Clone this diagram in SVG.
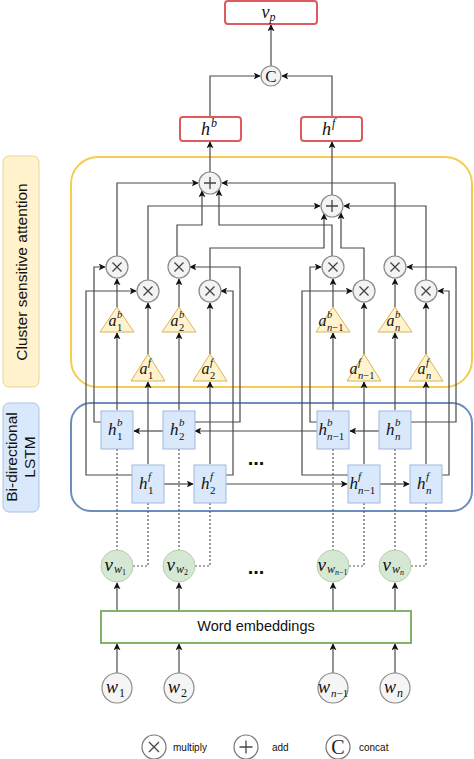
<svg xmlns="http://www.w3.org/2000/svg" width="474" height="759" viewBox="0 0 474 759">
<style>
.bg{fill:#ffffff}
.m{font-family:"Liberation Serif","DejaVu Serif",serif;font-style:italic;fill:#111}
.u{font-style:normal}
.s{font-family:"Liberation Sans",Arial,sans-serif;fill:#111}
.red{fill:#fff;stroke:#dd5b5f;stroke-width:2}
.op{fill:#f3f3f3;stroke:#8a8a8a;stroke-width:1.2}
.sym{stroke:#444;stroke-width:1.3;fill:none}
.tri{fill:#fff2cc;stroke:#d6b656;stroke-width:1}
.hb{fill:#dae8fc;stroke:#9fb9df;stroke-width:1}
.vw{fill:#d5e8d4;stroke:#b3d0a8;stroke-width:1}
.wc{fill:#f5f5f5;stroke:#8a8a8a;stroke-width:1.2}
.ln{fill:none;stroke:#4a4a4a;stroke-width:1.2}
.ar{marker-end:url(#ah)}
.dot{fill:none;stroke:#555;stroke-width:1.2;stroke-dasharray:2,2}
</style>
<defs>
<marker id="ah" viewBox="0 0 10 10" refX="9" refY="5" markerWidth="7" markerHeight="7" markerUnits="userSpaceOnUse" orient="auto">
<path d="M0,0 L10,5 L0,10 L2.5,5 z" fill="#111"/>
</marker>
</defs>
<rect class="bg" x="0" y="0" width="474" height="759"/>

<!-- section frames -->
<g id="frame-attention">
<rect x="71" y="157" width="401" height="230" rx="27" fill="none" stroke="#f4cd4f" stroke-width="2"/>
</g>
<g id="frame-lstm">
<rect x="71" y="403" width="401" height="108" rx="20" fill="none" stroke="#6c8ebf" stroke-width="2"/>
</g>
<g id="label-attention">
<rect x="3" y="156" width="36" height="231" rx="6" fill="#fff2cc" stroke="#e6d59a" stroke-width="1"/>
<text class="s" font-size="15.5" text-anchor="middle" transform="translate(27,272) rotate(-90)">Cluster sensitive attention</text>
</g>
<g id="label-lstm">
<rect x="3" y="403" width="36" height="109" rx="6" fill="#dae8fc" stroke="#a9c4eb" stroke-width="1"/>
<text class="s" font-size="15.5" text-anchor="middle" transform="translate(17,457) rotate(-90)">Bi-directional</text>
<text class="s" font-size="15.5" text-anchor="middle" transform="translate(35,457) rotate(-90)">LSTM</text>
</g>

<!-- connectors -->
<g id="connectors">
<path class="ln ar" d="M271,66 V25"/>
<path class="ln ar" d="M210,117 V76 H260"/>
<path class="ln ar" d="M332,117 V76 H282"/>
<path class="ln ar" d="M210,172 V142"/>
<path class="ln ar" d="M332,195 V142"/>
<path class="ln ar" d="M117,256 V183 H198"/>
<path class="ln ar" d="M395,256 V183 H222"/>
<path class="ln ar" d="M177,256 V225 H202 V191"/>
<path class="ln ar" d="M332,256 V225 H219 V190"/>
<path class="ln ar" d="M148,280 V206 H320"/>
<path class="ln ar" d="M426,280 V206 H344"/>
<path class="ln ar" d="M210,280 V248 H324 V214"/>
<path class="ln ar" d="M364,280 V248 H341 V213"/>
<path class="ln ar" d="M117,307 V279"/>
<path class="ln ar" d="M179,307 V279"/>
<path class="ln ar" d="M333,307 V279"/>
<path class="ln ar" d="M395,307 V279"/>
<path class="ln ar" d="M148,354 V303"/>
<path class="ln ar" d="M210,354 V303"/>
<path class="ln ar" d="M364,354 V303"/>
<path class="ln ar" d="M426,354 V303"/>
<path class="ln ar" d="M117,410 V333"/>
<path class="ln ar" d="M179,410 V333"/>
<path class="ln ar" d="M333,410 V333"/>
<path class="ln ar" d="M395,410 V333"/>
<path class="ln ar" d="M148,464 V382"/>
<path class="ln ar" d="M210,464 V382"/>
<path class="ln ar" d="M364,464 V382"/>
<path class="ln ar" d="M426,464 V382"/>
<path class="ln ar" d="M101,422 H94 V267 H105"/>
<path class="ln ar" d="M132,475 H86 V291 H136"/>
<path class="ln ar" d="M195,422 H240 V267 H190"/>
<path class="ln ar" d="M226,475 H233 V291 H221"/>
<path class="ln ar" d="M317,422 H310 V267 H321"/>
<path class="ln ar" d="M348,475 H302 V291 H352"/>
<path class="ln ar" d="M411,422 H456 V267 H407"/>
<path class="ln ar" d="M442,475 H449 V291 H438"/>
<path class="ln ar" d="M379,431 H350"/>
<path class="ln ar" d="M317,431 H195"/>
<path class="ln ar" d="M163,431 H134"/>
<path class="ln ar" d="M164,484 H193"/>
<path class="ln ar" d="M226,484 H347"/>
<path class="ln ar" d="M380,484 H409"/>
<path class="dot" d="M117,449 V550"/>
<path class="dot" d="M148,503 V566 H133"/>
<path class="dot" d="M179,449 V550"/>
<path class="dot" d="M210,503 V566 H195"/>
<path class="dot" d="M333,449 V550"/>
<path class="dot" d="M364,503 V566 H349"/>
<path class="dot" d="M395,449 V550"/>
<path class="dot" d="M426,503 V566 H411"/>
<path class="ln ar" d="M117,611 V583"/>
<path class="ln ar" d="M179,611 V583"/>
<path class="ln ar" d="M333,611 V583"/>
<path class="ln ar" d="M395,611 V583"/>
<path class="ln ar" d="M117,673 V644"/>
<path class="ln ar" d="M179,673 V644"/>
<path class="ln ar" d="M333,673 V644"/>
<path class="ln ar" d="M395,673 V644"/>
</g>

<!-- top nodes -->
<g id="vp">
<rect class="red" x="225" y="1" width="92" height="23" rx="3"/>
<text class="m" font-size="18"><tspan x="261.5" y="18">v</tspan><tspan x="269.5" y="21" font-size="12">p</tspan></text>
</g>
<g id="concat">
<circle class="op" cx="271" cy="76" r="10"/>
<text x="271" y="82" font-family="Liberation Serif,serif" font-size="17" text-anchor="middle" fill="#222">C</text>
</g>
<g id="hb-out">
<rect class="red" x="180" y="117" width="61" height="24" rx="3"/>
<text class="m" font-size="18"><tspan x="201" y="135">h</tspan><tspan x="211" y="127" font-size="12">b</tspan></text>
</g>
<g id="hf-out">
<rect class="red" x="301" y="117" width="61" height="24" rx="3"/>
<text class="m" font-size="18"><tspan x="322" y="135">h</tspan><tspan x="332" y="127" font-size="12">f</tspan></text>
</g>

<!-- sums -->
<g id="add-b">
<circle class="op" cx="210" cy="183" r="11"/>
<path class="sym" d="M204,183 H216 M210,177 V189"/>
</g>
<g id="add-f">
<circle class="op" cx="332" cy="206" r="11"/>
<path class="sym" d="M326,206 H338 M332,200 V212"/>
</g>

<!-- multiplies -->
<g id="mul-b1"><circle class="op" cx="117" cy="267" r="11"/><path class="sym" d="M112.5,262.5 L121.5,271.5 M121.5,262.5 L112.5,271.5"/></g>
<g id="mul-f1"><circle class="op" cx="148" cy="291" r="11"/><path class="sym" d="M143.5,286.5 L152.5,295.5 M152.5,286.5 L143.5,295.5"/></g>
<g id="mul-b2"><circle class="op" cx="179" cy="267" r="11"/><path class="sym" d="M174.5,262.5 L183.5,271.5 M183.5,262.5 L174.5,271.5"/></g>
<g id="mul-f2"><circle class="op" cx="210" cy="291" r="11"/><path class="sym" d="M205.5,286.5 L214.5,295.5 M214.5,286.5 L205.5,295.5"/></g>
<g id="mul-bn1"><circle class="op" cx="333" cy="267" r="11"/><path class="sym" d="M328.5,262.5 L337.5,271.5 M337.5,262.5 L328.5,271.5"/></g>
<g id="mul-fn1"><circle class="op" cx="364" cy="291" r="11"/><path class="sym" d="M359.5,286.5 L368.5,295.5 M368.5,286.5 L359.5,295.5"/></g>
<g id="mul-bn"><circle class="op" cx="395" cy="267" r="11"/><path class="sym" d="M390.5,262.5 L399.5,271.5 M399.5,262.5 L390.5,271.5"/></g>
<g id="mul-fn"><circle class="op" cx="426" cy="291" r="11"/><path class="sym" d="M421.5,286.5 L430.5,295.5 M430.5,286.5 L421.5,295.5"/></g>

<!-- attention weights -->
<g id="a-b1"><path class="tri" d="M117,307 L134,332 L100,332 Z"/>
<text class="m" font-size="16"><tspan x="108.5" y="326">a</tspan><tspan x="117" y="318" font-size="10.5">b</tspan><tspan class="u" x="117" y="331" font-size="10.5">1</tspan></text></g>
<g id="a-b2"><path class="tri" d="M179,307 L196,332 L162,332 Z"/>
<text class="m" font-size="16"><tspan x="170.5" y="326">a</tspan><tspan x="179" y="318" font-size="10.5">b</tspan><tspan class="u" x="179" y="331" font-size="10.5">2</tspan></text></g>
<g id="a-bn1"><path class="tri" d="M333,307 L350,332 L316,332 Z"/>
<text class="m" font-size="16"><tspan x="318.5" y="326">a</tspan><tspan x="327" y="318" font-size="10.5">b</tspan><tspan x="327" y="331" font-size="10.5">n</tspan><tspan class="u" font-size="10.5">−1</tspan></text></g>
<g id="a-bn"><path class="tri" d="M395,307 L412,332 L378,332 Z"/>
<text class="m" font-size="16"><tspan x="386.5" y="326">a</tspan><tspan x="395" y="318" font-size="10.5">b</tspan><tspan x="395" y="331" font-size="10.5">n</tspan></text></g>
<g id="a-f1"><path class="tri" d="M148,354 L165,381 L131,381 Z"/>
<text class="m" font-size="16"><tspan x="139.5" y="374">a</tspan><tspan x="148" y="366" font-size="10.5">f</tspan><tspan class="u" x="148" y="379" font-size="10.5">1</tspan></text></g>
<g id="a-f2"><path class="tri" d="M210,354 L227,381 L193,381 Z"/>
<text class="m" font-size="16"><tspan x="201.5" y="374">a</tspan><tspan x="210" y="366" font-size="10.5">f</tspan><tspan class="u" x="210" y="379" font-size="10.5">2</tspan></text></g>
<g id="a-fn1"><path class="tri" d="M364,354 L381,381 L347,381 Z"/>
<text class="m" font-size="16"><tspan x="349.5" y="374">a</tspan><tspan x="358" y="366" font-size="10.5">f</tspan><tspan x="358" y="379" font-size="10.5">n</tspan><tspan class="u" font-size="10.5">−1</tspan></text></g>
<g id="a-fn"><path class="tri" d="M426,354 L443,381 L409,381 Z"/>
<text class="m" font-size="16"><tspan x="417.5" y="374">a</tspan><tspan x="426" y="366" font-size="10.5">f</tspan><tspan x="426" y="379" font-size="10.5">n</tspan></text></g>

<!-- LSTM hidden states -->
<g id="h-b1"><rect class="hb" x="101" y="411" width="32" height="38"/>
<text class="m" font-size="17"><tspan x="108" y="435">h</tspan><tspan x="117" y="426" font-size="11">b</tspan><tspan class="u" x="117" y="440" font-size="11">1</tspan></text></g>
<g id="h-b2"><rect class="hb" x="163" y="411" width="32" height="38"/>
<text class="m" font-size="17"><tspan x="170" y="435">h</tspan><tspan x="179" y="426" font-size="11">b</tspan><tspan class="u" x="179" y="440" font-size="11">2</tspan></text></g>
<g id="h-bn1"><rect class="hb" x="317" y="411" width="32" height="38"/>
<text class="m" font-size="17"><tspan x="318.5" y="435">h</tspan><tspan x="327" y="426" font-size="11">b</tspan><tspan x="327" y="440" font-size="11">n</tspan><tspan class="u" font-size="11">−1</tspan></text></g>
<g id="h-bn"><rect class="hb" x="379" y="411" width="32" height="38"/>
<text class="m" font-size="17"><tspan x="386" y="435">h</tspan><tspan x="395" y="426" font-size="11">b</tspan><tspan x="395" y="440" font-size="11">n</tspan></text></g>
<g id="h-f1"><rect class="hb" x="132" y="465" width="32" height="38"/>
<text class="m" font-size="17"><tspan x="139" y="489">h</tspan><tspan x="148" y="480" font-size="11">f</tspan><tspan class="u" x="148" y="494" font-size="11">1</tspan></text></g>
<g id="h-f2"><rect class="hb" x="194" y="465" width="32" height="38"/>
<text class="m" font-size="17"><tspan x="201" y="489">h</tspan><tspan x="210" y="480" font-size="11">f</tspan><tspan class="u" x="210" y="494" font-size="11">2</tspan></text></g>
<g id="h-fn1"><rect class="hb" x="348" y="465" width="32" height="38"/>
<text class="m" font-size="17"><tspan x="349.5" y="489">h</tspan><tspan x="358" y="480" font-size="11">f</tspan><tspan x="358" y="494" font-size="11">n</tspan><tspan class="u" font-size="11">−1</tspan></text></g>
<g id="h-fn"><rect class="hb" x="410" y="465" width="32" height="38"/>
<text class="m" font-size="17"><tspan x="417" y="489">h</tspan><tspan x="426" y="480" font-size="11">f</tspan><tspan x="426" y="494" font-size="11">n</tspan></text></g>

<g id="ellipsis-lstm"><text class="s" x="256" y="465" font-size="20" font-weight="bold" text-anchor="middle">...</text></g>

<!-- word vectors -->
<g id="vw1"><circle class="vw" cx="117" cy="566" r="16"/>
<text class="m" font-size="19"><tspan x="104.5" y="571">v</tspan><tspan x="114" y="573" font-size="12">w</tspan><tspan class="u" x="122" y="575" font-size="8">1</tspan></text></g>
<g id="vw2"><circle class="vw" cx="179" cy="566" r="16"/>
<text class="m" font-size="19"><tspan x="166.5" y="571">v</tspan><tspan x="176" y="573" font-size="12">w</tspan><tspan class="u" x="184" y="575" font-size="8">2</tspan></text></g>
<g id="vwn1"><circle class="vw" cx="333" cy="566" r="16"/>
<text class="m" font-size="19"><tspan x="317.5" y="571">v</tspan><tspan x="327" y="573" font-size="12">w</tspan><tspan x="335" y="575" font-size="8">n</tspan><tspan class="u" font-size="8">−1</tspan></text></g>
<g id="vwn"><circle class="vw" cx="395" cy="566" r="16"/>
<text class="m" font-size="19"><tspan x="382.5" y="571">v</tspan><tspan x="392" y="573" font-size="12">w</tspan><tspan x="400" y="575" font-size="8">n</tspan></text></g>
<g id="ellipsis-vw"><text class="s" x="256" y="574" font-size="20" font-weight="bold" text-anchor="middle">...</text></g>

<g id="word-embeddings">
<rect x="101" y="611" width="310" height="32" fill="#fff" stroke="#82b366" stroke-width="2"/>
<text class="s" x="256" y="631" font-size="14.5" text-anchor="middle">Word embeddings</text>
</g>

<!-- words -->
<g id="w1"><circle class="wc" cx="117" cy="688" r="15"/>
<text class="m" font-size="18"><tspan x="106" y="693">w</tspan><tspan class="u" x="119" y="697" font-size="12">1</tspan></text></g>
<g id="w2"><circle class="wc" cx="179" cy="688" r="15"/>
<text class="m" font-size="18"><tspan x="168" y="693">w</tspan><tspan class="u" x="181" y="697" font-size="12">2</tspan></text></g>
<g id="wn1"><circle class="wc" cx="333" cy="688" r="15"/>
<text class="m" font-size="18"><tspan x="318" y="693">w</tspan><tspan x="331" y="697" font-size="11">n</tspan><tspan class="u" font-size="11">−1</tspan></text></g>
<g id="wn"><circle class="wc" cx="395" cy="688" r="15"/>
<text class="m" font-size="18"><tspan x="384" y="693">w</tspan><tspan x="397" y="697" font-size="12">n</tspan></text></g>

<!-- legend -->
<g id="legend-multiply">
<circle cx="154" cy="747" r="12" fill="#fff" stroke="#777" stroke-width="1.2"/>
<path class="sym" d="M149,742 L159,752 M159,742 L149,752"/>
<text class="s" x="173" y="751" font-size="10">multiply</text>
</g>
<g id="legend-add">
<circle cx="246" cy="747" r="12" fill="#fff" stroke="#777" stroke-width="1.2"/>
<path class="sym" d="M239.5,747 H252.5 M246,740.5 V753.5"/>
<text class="s" x="272" y="751" font-size="10">add</text>
</g>
<g id="legend-concat">
<circle cx="338" cy="747" r="12" fill="#fff" stroke="#777" stroke-width="1.2"/>
<text x="338" y="754" font-family="Liberation Serif,serif" font-size="20" text-anchor="middle" fill="#222">C</text>
<text class="s" x="359" y="751" font-size="10">concat</text>
</g>
</svg>
